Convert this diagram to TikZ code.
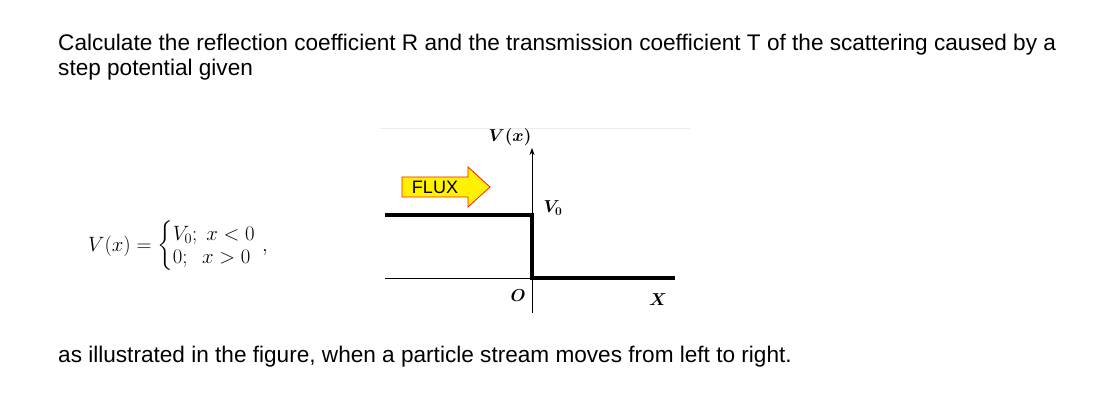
\documentclass[tikz,border=0pt]{standalone}
\usepackage{amsmath}
\usepackage{fontspec}
\setmainfont{Liberation Sans}
\usetikzlibrary{arrows.meta}
\begin{document}
\begin{tikzpicture}[x=1pt,y=-1pt,
  body/.style={anchor=west,inner sep=0pt,font=\fontsize{22.6}{26}\selectfont},
  lbl/.style={inner sep=0pt,font=\fontsize{17}{20}\selectfont},
  thick line/.style={line width=3.2pt}]
\useasboundingbox (0,0) rectangle (1112,411);
\node[body] (t1) at (58,45) {Calculate the reflection coefficient R and the transmission coefficient T of the scattering caused by a};
\node[body] (t2) at (58,70) {step potential given};
\node[body] (t3) at (58,357) {as illustrated in the figure, when a particle stream moves from left to right.};
\node[anchor=west,inner sep=0pt,font=\fontsize{20}{24}\selectfont] (eq) at (88,246)
  {$V(x)=\begin{cases}V_0;\ x<0\\[-6pt]0;\ \ x>0\end{cases}\!\!\!\!\!,$};
\draw[gray!15] (380,128) -- (690,128);
\coordinate (xl) at (385,278); \coordinate (xr) at (675,278);
\coordinate (yb) at (532,313); \coordinate (yt) at (532,148);
\draw[line width=0.8pt] (xl) -- (xr);
\draw[line width=0.8pt,-{Stealth[length=7pt,width=5pt]}] (yb) -- (yt);
\coordinate (a) at (385,215); \coordinate (b) at (532,215);
\coordinate (c) at (532,278); \coordinate (d) at (675,278);
\draw[thick line] (a) -- (b) -- (c) -- (d);
\node[lbl] (vx) at (510,137) {$\boldsymbol{V(x)}$};
\node[lbl] (v0) at (553,208) {$\boldsymbol{V_0}$};
\node[lbl] (o) at (518,296) {$\boldsymbol{O}$};
\node[lbl] (X) at (658,300) {$\boldsymbol{X}$};
\draw[red!80!orange,line width=0.8pt,fill=yellow] (402,177) -- (468,177) -- (468,167) -- (490,187) -- (468,207) -- (468,197) -- (402,197) -- cycle;
\node[inner sep=0pt,font=\fontsize{18}{20}\selectfont] (flux) at (435,187) {FLUX};
\end{tikzpicture}
\end{document}
